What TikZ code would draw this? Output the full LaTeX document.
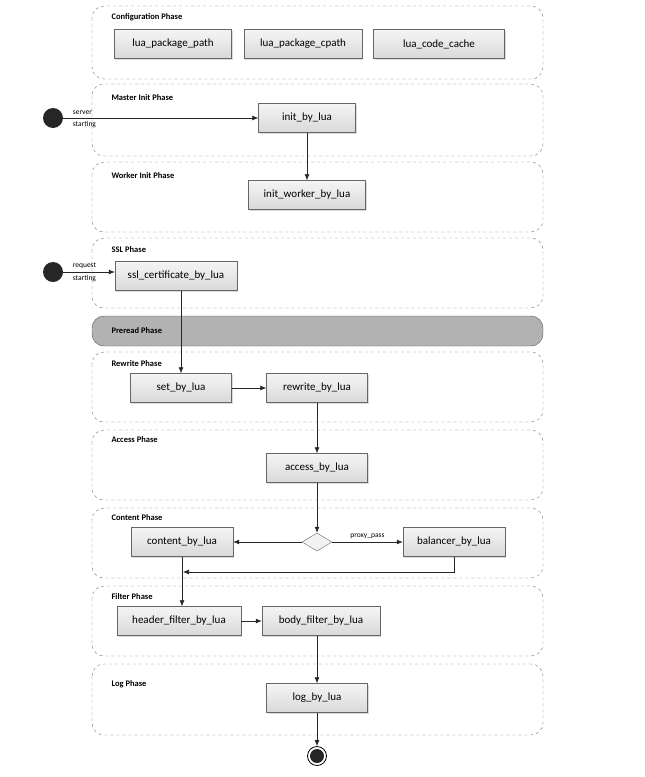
\documentclass[tikz,border=0pt]{standalone}
\usepackage{fontspec}
\setmainfont{Carlito}
\usetikzlibrary{arrows.meta,shapes.geometric,shadows}
\begin{document}
\begin{tikzpicture}[x=1pt,y=-1pt,
 phase/.style={draw=gray!90!black,dashed,rounded corners=12pt},
 ptitle/.style={anchor=west,font=\bfseries\fontsize{8.5}{10}\selectfont},
 box/.style={draw=gray!80!black,top color=gray!8,bottom color=gray!30,minimum height=29pt,font=\fontsize{11}{13}\selectfont,drop shadow={shadow xshift=1pt,shadow yshift=-1pt,opacity=0.3}},
 arr/.style={-{Latex[length=6pt,width=5pt]},draw=black!85,line width=0.7pt},
 small/.style={font=\fontsize{7.5}{9}\selectfont}]
\useasboundingbox (0,0) rectangle (645,777);
\foreach \a/\b in {6/79,84/156,162/232,238/308,352/422,430/500,508/578,586/656,664/735}
 \draw[phase] (92,\a) rectangle (543,\b);
\draw[fill=gray!60,draw=gray!70!black,rounded corners=12pt] (92,316) rectangle (543,346);
\node[ptitle] at (108,17) {Configuration Phase};
\node[ptitle] at (108,98) {Master Init Phase};
\node[ptitle] at (108,176) {Worker Init Phase};
\node[ptitle] at (108,250) {SSL Phase};
\node[ptitle] at (108,331) {Preread Phase};
\node[ptitle] at (108,364) {Rewrite Phase};
\node[ptitle] at (108,440) {Access Phase};
\node[ptitle] at (108,518) {Content Phase};
\node[ptitle] at (108,597) {Filter Phase};
\node[ptitle] at (108,684) {Log Phase};

\node[box,minimum width=117pt] (lpp) at (173,44) {lua\_package\_path};
\node[box,minimum width=118pt] (lpc) at (303,44) {lua\_package\_cpath};
\node[box,minimum width=131pt] (lcc) at (439,44) {lua\_code\_cache};
\node[box,minimum width=97pt] (init) at (307,118) {init\_by\_lua};
\node[box,minimum width=117pt] (iw) at (307,195) {init\_worker\_by\_lua};
\node[box,minimum width=122pt] (ssl) at (176,276) {ssl\_certificate\_by\_lua};
\node[box,minimum width=101pt] (set) at (181,388) {set\_by\_lua};
\node[box,minimum width=101pt] (rw) at (317,388) {rewrite\_by\_lua};
\node[box,minimum width=101pt] (acc) at (317,468) {access\_by\_lua};
\node[diamond,draw=gray!80!black,fill=gray!10,minimum width=30pt,minimum height=18pt,inner sep=0pt] (dia) at (317,542) {};
\node[box,minimum width=102pt] (cont) at (182,542) {content\_by\_lua};
\node[box,minimum width=102pt] (bal) at (454,542) {balancer\_by\_lua};
\node[box,minimum width=124pt] (hf) at (179,621) {header\_filter\_by\_lua};
\node[box,minimum width=118pt] (bf) at (321,621) {body\_filter\_by\_lua};
\node[box,minimum width=101pt] (log) at (317,698) {log\_by\_lua};

\node[circle,fill=black!85,minimum size=20pt,inner sep=0pt] (s1) at (53,118) {};
\node[circle,fill=black!85,minimum size=20pt,inner sep=0pt] (s2) at (53,272) {};
\node[circle,draw=black,line width=0.8pt,minimum size=19pt,inner sep=0pt] (endo) at (317,756) {};
\node[circle,fill=black!85,minimum size=14pt,inner sep=0pt] (endi) at (317,756) {};

\draw[arr] (s1) -- (init) node[small,pos=0,anchor=south west,xshift=6pt] {server} node[small,pos=0,anchor=north west,xshift=6pt] {starting};
\draw[arr] (s2) -- (ssl.west|-s2) node[small,pos=0,anchor=south west,xshift=6pt] {request} node[small,pos=0,anchor=north west,xshift=6pt] {starting};
\draw[arr] (init) -- (iw);
\draw[arr] (ssl.south-|set) -- (set);
\draw[arr] (set) -- (rw);
\draw[arr] (rw) -- (acc);
\draw[arr] (acc) -- (dia);
\draw[arr] (dia) -- (cont);
\draw[arr] (dia) -- node[small,above] {proxy\_pass} (bal);
\coordinate (m) at (183,572);
\draw[arr] (bal.south) |- (m);
\draw[arr] (cont) -- (cont.south|-hf.north);
\draw[arr] (hf) -- (bf);
\draw[arr] (bf.south-|log) -- (log);
\draw[arr] (log) -- (endo);
\end{tikzpicture}
\end{document}
